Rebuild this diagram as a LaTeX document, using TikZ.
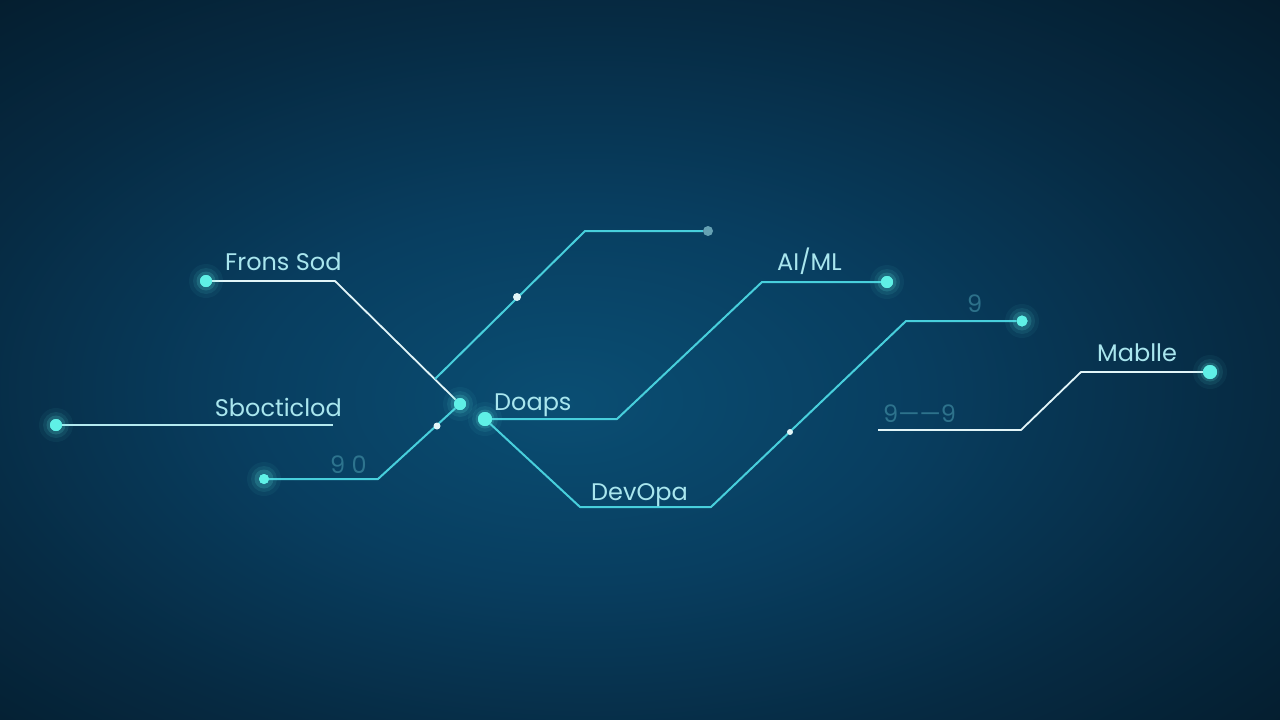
\documentclass[tikz,border=0pt]{standalone}
\usepackage{fontspec}
\setmainfont{Poppins}
\usetikzlibrary{positioning}
\definecolor{bgcore}{HTML}{0A4E73}
\definecolor{bgmid}{HTML}{083E60}
\definecolor{bgouter}{HTML}{062A42}
\definecolor{bgedge}{HTML}{041623}
\definecolor{bgcorner}{HTML}{02080E}
\definecolor{wirecyan}{HTML}{48CFDC}
\definecolor{wirewhite}{HTML}{E2F5F8}
\definecolor{dotcyan}{HTML}{5FF0E6}
\definecolor{labelcyan}{HTML}{A9E6EE}
\definecolor{ghost}{HTML}{3E8AA0}
\pgfdeclareradialshading{bgglow}{\pgfpoint{-3bp}{-3bp}}{%
  color(0bp)=(bgcore); color(13bp)=(bgmid); color(26bp)=(bgouter);
  color(42bp)=(bgedge); color(64bp)=(bgcorner)}
\tikzset{
    halo/.style={fill=dotcyan,opacity=#1},
    halo/.default=0.15
}
% soft glow round a port
\newcommand{\glowat}[1]{%
  \fill[halo=0.05] (#1) circle (17pt);
  \fill[halo=0.09] (#1) circle (13pt);
  \fill[halo=0.16] (#1) circle (9.5pt);}

\begin{document}
\begin{tikzpicture}[x=1pt,
                    y=-1pt,
                    wire/.style={line width=2pt,draw=wirecyan,line join=round},
                    pale/.style={line width=1.8pt,draw=wirewhite,line join=round},
                    port/.style={circle,fill=dotcyan,inner sep=0pt,minimum size=12pt},
                    pin/.style={circle,fill=#1,inner sep=0pt,minimum size=8pt},
                    pin/.default=wirewhite,
                    tag/.style={text=labelcyan,font=\fontsize{24}{28}\selectfont,inner sep=0pt},
                    ghosttag/.style={tag,text=ghost,opacity=0.7}
                    ]
  \shade[shading=bgglow] (0,0) rectangle (1280,720);
  \useasboundingbox (0,0) rectangle (1280,720);

  % ports and corners
  \node[port] (front) at (206,281) {};
  \node[port] (back) at (56,425) {};
  \node[port,minimum size=10pt] (low) at (264,479) {};
  \node[port] (hubA) at (460,404) {};
  \node[port,minimum size=14pt] (hubB) at (485,419) {};
  \node[port] (aiml) at (887,282) {};
  \node[port,minimum size=11pt] (ops) at (1022,321) {};
  \node[port,minimum size=14pt] (mobile) at (1210,372) {};
  \node[pin=ghost!80!white,minimum size=10pt] (topend) at (708,231) {};
  \coordinate (frontK) at (335,281);
  \coordinate (split) at (435,379);
  \coordinate (topK) at (585,231);
  \coordinate (backE) at (333,425);
  \coordinate (lowK) at (378,479);
  \coordinate (aiK1) at (617,419);
  \coordinate (aiK2) at (762,282);
  \coordinate (opsK1) at (580,507);
  \coordinate (opsK2) at (711,507);
  \coordinate (opsK3) at (906,321);
  \coordinate (mobS) at (878,430);
  \coordinate (mobK1) at (1021,430);
  \coordinate (mobK2) at (1081,372);

  % wires
  \draw[pale] (front) -- (frontK) -- (hubA);
  \draw[pale,draw=wirewhite!70!wirecyan] (back) -- (backE);
  \draw[wire] (split) -- (topK) -- (topend);
  \draw[wire] (low) -- (lowK) -- (hubA);
  \draw[wire] (hubB) -- (aiK1) -- (aiK2) -- (aiml);
  \draw[wire] (hubB) -- (opsK1) -- (opsK2) -- (opsK3) -- (ops);
  \draw[pale] (mobS) -- (mobK1) -- (mobK2) -- (mobile);

  % glow
  \foreach \p in {front,back,low,hubA,hubB,aiml,ops,mobile}
    \glowat{\p};
  \node[port] at (front) {};
  \node[port] at (back) {};
  \node[port,minimum size=10pt] at (low) {};
  \node[port] at (hubA) {};
  \node[port,minimum size=14pt] at (hubB) {};
  \node[port] at (aiml) {};
  \node[port,minimum size=11pt] at (ops) {};
  \node[port,minimum size=14pt] at (mobile) {};
  \node[pin] (midA) at (517,297) {};
  \node[pin,minimum size=7pt] (midB) at (437,426) {};
  \node[pin,minimum size=6pt] (midC) at (790,432) {};

  % labels
  \node[tag,anchor=base west] (frontL) at (225,270) {Frons Sod};
  \node[tag,anchor=base east] (backL) at (342,416) {Sbocticlod};
  \node[ghosttag,anchor=base west] (lowL) at (330,473) {9 0};
  \node[tag,anchor=base west] (hubL) at (494,410) {Doaps};
  \node[tag,anchor=base west] (aimlL) at (777,270) {AI/ML};
  \node[ghosttag,anchor=base west] (opsG) at (967,312) {9};
  \node[tag,anchor=base west] (opsL) at (591,500) {DevOpa};
  \node[ghosttag,anchor=base west] (mobG) at (883,422) {9——9};
  \node[tag,anchor=base west] (mobL) at (1097,361) {Mablle};
\end{tikzpicture}
\end{document}
